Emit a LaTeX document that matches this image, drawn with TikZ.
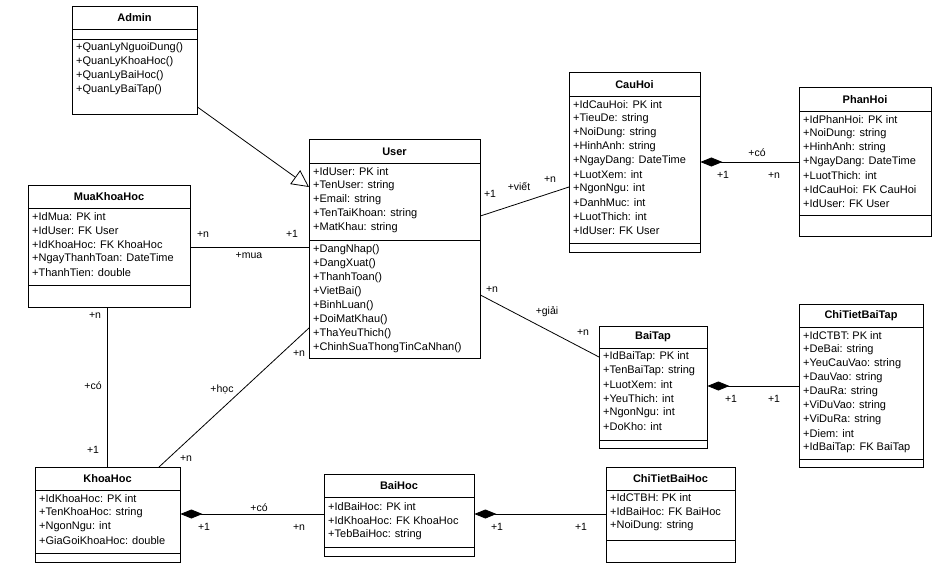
\documentclass[tikz,border=0pt]{standalone}
\usepackage{fontspec}
\setmainfont{Liberation Sans}
\usetikzlibrary{arrows.meta}
\tikzset{
  box/.style={draw, line width=1pt, fill=white},
  sep/.style={line width=0.8pt},
  ttl/.style={font=\fontsize{11}{12}\selectfont\bfseries, inner sep=0pt},
  attr/.style={font=\fontsize{11}{12}\selectfont, anchor=west, inner sep=0pt},
  lab/.style={font=\fontsize{10.5}{12}\selectfont, inner sep=0pt},
  conn/.style={line width=0.8pt},
  comp/.style={conn, {Diamond[length=22pt,width=9pt]}-},
  inh/.style={conn, -{Triangle[open,length=17pt,width=17pt,fill=white]}}
}
% #1 name, #2 x1, #3 y1, #4 x2, #5 y2, #6 title line y, #7 section line y, #8 title
\newcommand\umlbox[8]{%
  \path[box] (#2,#3) rectangle (#4,#5);
  \node[inner sep=0pt, minimum width=#4pt-#2pt, minimum height=#5pt-#3pt, anchor=north west] (#1) at (#2,#3) {};
  \draw[sep] (#2,#6) -- (#4,#6);
  \draw[sep] (#2,#7) -- (#4,#7);
  \node[ttl] at ({(#2+#4)/2},{(#3+#6)/2}) {#8};
}
\newcommand\attrs[3]{%
  \foreach \t [count=\i] in {#3} \node[attr] at (#1,{#2+14*(\i-1)}) {\t};
}
\begin{document}
\begin{tikzpicture}[x=1pt,y=-1pt]
\useasboundingbox[fill=white] (0,0) rectangle (945,567);

\umlbox{admin}{72}{7}{197}{115}{29}{39}{Admin}
\attrs{76}{48}{+QuanLyNguoiDung(),+QuanLyKhoaHoc(),+QuanLyBaiHoc(),+QuanLyBaiTap()}

\umlbox{user}{309}{140}{480}{358}{163}{240}{User}
\attrs{313}{172}{+IdUser: PK int,+TenUser: string,+Email: string,+TenTaiKhoan: string,+MatKhau: string}
\attrs{313}{250}{+DangNhap(),+DangXuat(),+ThanhToan(),+VietBai(),+BinhLuan(),+DoiMatKhau(),+ThaYeuThich(),+ChinhSuaThongTinCaNhan()}

\umlbox{mua}{28}{185}{190}{307}{208}{285}{MuaKhoaHoc}
\attrs{32}{217}{+IdMua: PK int,+IdUser: FK User,+IdKhoaHoc: FK KhoaHoc,+NgayThanhToan: DateTime,+ThanhTien: double}

\umlbox{khoa}{35}{467}{180}{562}{490}{553}{KhoaHoc}
\attrs{39}{499}{+IdKhoaHoc: PK int,+TenKhoaHoc: string,+NgonNgu: int,+GiaGoiKhoaHoc: double}

\umlbox{baihoc}{324}{474}{474}{556}{497}{547}{BaiHoc}
\attrs{328}{507}{+IdBaiHoc: PK int,+IdKhoaHoc: FK KhoaHoc,+TebBaiHoc: string}

\umlbox{ctbh}{606}{467}{735}{562}{490}{540}{ChiTietBaiHoc}
\attrs{610}{498}{+IdCTBH: PK int,+IdBaiHoc: FK BaiHoc,+NoiDung: string}

\umlbox{baitap}{599}{326}{707}{448}{348}{440}{BaiTap}
\attrs{603}{357}{+IdBaiTap: PK int,+TenBaiTap: string,+LuotXem: int,+YeuThich: int,+NgonNgu: int,+DoKho: int}

\umlbox{ctbt}{799}{304}{923}{467}{327}{459}{ChiTietBaiTap}
\attrs{803}{336}{+IdCTBT: PK int,+DeBai: string,+YeuCauVao: string,+DauVao: string,+DauRa: string,+ViDuVao: string,+ViDuRa: string,+Diem: int,+IdBaiTap: FK BaiTap}

\umlbox{cauhoi}{569}{73}{700}{252}{96}{243}{CauHoi}
\attrs{573}{105}{+IdCauHoi: PK int,+TieuDe: string,+NoiDung: string,+HinhAnh: string,+NgayDang: DateTime,+LuotXem: int,+NgonNgu: int,+DanhMuc: int,+LuotThich: int,+IdUser: FK User}

\umlbox{phanhoi}{799}{88}{931}{236}{111}{215}{PhanHoi}
\attrs{803}{120}{+IdPhanHoi: PK int,+NoiDung: string,+HinhAnh: string,+NgayDang: DateTime,+LuotThich: int,+IdCauHoi: FK CauHoi,+IdUser: FK User}

% connectors
\draw[inh] (admin.east |- 0,107) -- (user.west |- 0,187);
\draw[conn] (mua.east |- 0,247) -- (user.west |- 0,247);
\node[lab] at (203,234) {+n}; \node[lab] at (292,234) {+1}; \node[lab] at (249,256) {+mua};

\draw[conn] (mua.south -| 107,0) -- (khoa.north -| 107,0);
\node[lab] at (95,315) {+n}; \node[lab] at (93,386) {+có}; \node[lab] at (93,450) {+1};

\draw[conn] (khoa.north -| 159,0) -- (user.west |- 0,328);
\node[lab] at (222,389) {+học}; \node[lab] at (299,353) {+n}; \node[lab] at (186,458) {+n};

\draw[comp] (khoa.east |- 0,514) -- (baihoc.west |- 0,514);
\node[lab] at (259,508) {+có}; \node[lab] at (204,527) {+1}; \node[lab] at (299,527) {+n};

\draw[comp] (baihoc.east |- 0,514) -- (ctbh.west |- 0,514);
\node[lab] at (497,527) {+1}; \node[lab] at (581,527) {+1};

\draw[comp] (baitap.east |- 0,386) -- (ctbt.west |- 0,386);
\node[lab] at (731,399) {+1}; \node[lab] at (774,399) {+1};

\draw[conn] (user.east |- 0,295) -- (baitap.west |- 0,357);
\node[lab] at (492,289) {+n}; \node[lab] at (547,312) {+giải}; \node[lab] at (583,332) {+n};

\draw[conn] (user.east |- 0,216) -- (cauhoi.west |- 0,187);
\node[lab] at (490,194) {+1}; \node[lab] at (519,187) {+viết}; \node[lab] at (550,179) {+n};

\draw[comp] (cauhoi.east |- 0,162) -- (phanhoi.west |- 0,162);
\node[lab] at (757,153) {+có}; \node[lab] at (723,175) {+1}; \node[lab] at (774,175) {+n};
\end{tikzpicture}
\end{document}
